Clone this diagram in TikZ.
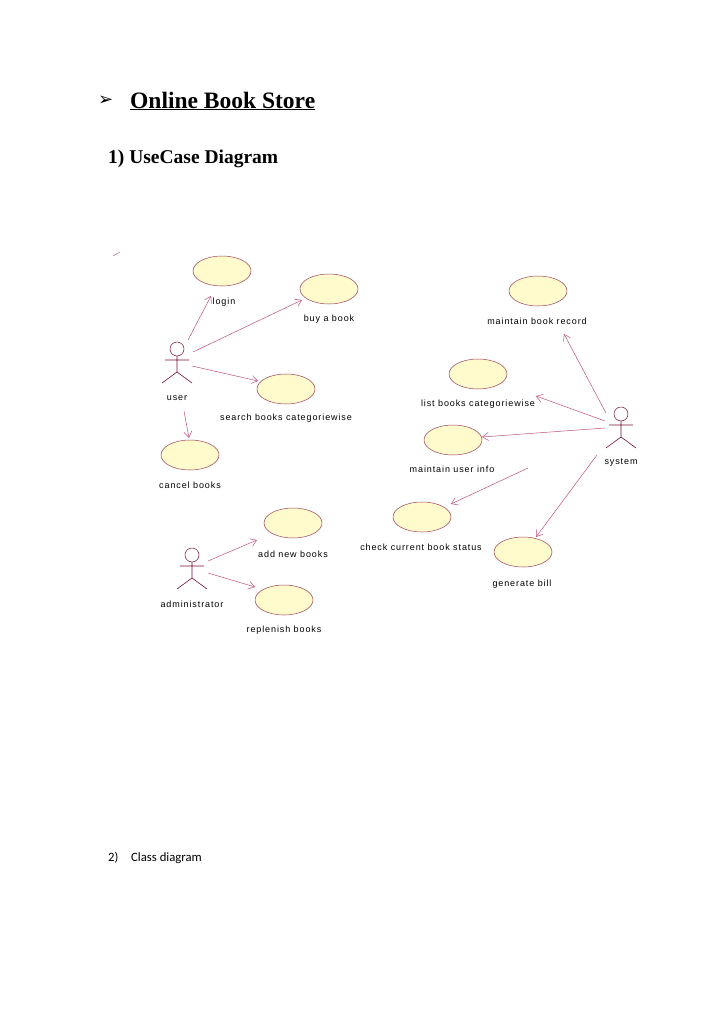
\documentclass[tikz,border=0pt]{standalone}
\usepackage{fontspec}
\usetikzlibrary{shapes.geometric,arrows.meta}
\setmainfont{Liberation Serif}
\newfontfamily\labfont[LetterSpace=10]{Liberation Sans}
\newfontfamily\symfont{DejaVu Sans}
\newfontfamily\calfont{Carlito}
\definecolor{uclr}{HTML}{A0405A}
\definecolor{ucfill}{HTML}{FFFBCC}
\definecolor{arrclr}{HTML}{C05080}
\definecolor{actclr}{HTML}{7A1030}
\begin{document}
\begin{tikzpicture}[x=1pt,y=-1pt,
  uc/.style={ellipse,draw=uclr,fill=ucfill,line width=0.5pt,minimum width=58pt,minimum height=30pt,inner sep=0pt},
  lbl/.style={font=\labfont\fontsize{9}{10}\selectfont,inner sep=0pt},
  arr/.style={draw=arrclr,line width=0.5pt,-{Straight Barb[length=6pt,width=8pt]}},
  act/.style={inner sep=0pt,minimum size=2pt}]
\useasboundingbox (0,0) rectangle (719,1017);
\fill[white] (0,0) rectangle (719,1017);
% header
\node[anchor=west,inner sep=0pt] (bul) at (98,101) {\symfont\bfseries\fontsize{18}{20}\selectfont ➢};
\node[anchor=west,inner sep=0pt] (title) at (130,101) {\fontsize{23.5}{26}\selectfont\bfseries\underline{Online Book Store}};
\node[anchor=west,inner sep=0pt] (sub) at (108,159) {\fontsize{19.5}{22}\selectfont\bfseries 1)\ UseCase Diagram};
\node[anchor=west,inner sep=0pt] (cls) at (108,858) {\calfont\fontsize{12.7}{14}\selectfont 2)\quad Class diagram};
\draw[arrclr,line width=0.4pt] (113,256) -- (120,252);
% use cases
\node[uc] (login) at (222,271) {};
\node[uc] (buy) at (329,289) {};
\node[uc] (search) at (286,389) {};
\node[uc] (cancel) at (190,455) {};
\node[uc] (addnew) at (293,523) {};
\node[uc] (repl) at (284,600) {};
\node[uc] (mbr) at (538,291) {};
\node[uc] (list) at (478,374) {};
\node[uc] (mui) at (453,440) {};
\node[uc] (check) at (422,517) {};
\node[uc] (bill) at (523,552) {};
\node[lbl] (tlogin) at (224,302) {login};
\node[lbl] (tbuy) at (329,319) {buy a book};
\node[lbl] (tsearch) at (286,418) {search books categoriewise};
\node[lbl] (tcancel) at (190,485) {cancel books};
\node[lbl] (tadd) at (293,554) {add new books};
\node[lbl] (trepl) at (284,630) {replenish books};
\node[lbl] (tmbr) at (537,321) {maintain book record};
\node[lbl] (tlist) at (478,404) {list books categoriewise};
\node[lbl] (tmui) at (452,469) {maintain user info};
\node[lbl] (tcheck) at (421,547) {check current book status};
\node[lbl] (tbill) at (522,584) {generate bill};
% actors
\foreach \n/\x/\y/\t in {user/177/349/user, admin/192/555/administrator, sys/621/414/system}{
  \draw[actclr,line width=0.5pt] (\x,\y) circle (7);
  \draw[actclr,line width=0.6pt] (\x,\y+7) -- (\x,\y+23) (\x-12,\y+11) -- (\x+12,\y+11)
     (\x-15,\y+34) -- (\x,\y+23) -- (\x+15,\y+34);
  \node[lbl] (\n lbl) at (\x,\y+49) {\t};
  \node[act] (\n) at (\x,\y+15) {};
}
% connectors
\coordinate (u1) at (188,340); \coordinate (u2) at (193,352); \coordinate (u3) at (192,366); \coordinate (u4) at (184,411);
\draw[arr] (u1) -- (211,296);
\draw[arr] (u2) -- (302,300);
\draw[arr] (u3) -- (258,381);
\draw[arr] (u4) -- (189,438);
\coordinate (a1) at (208,561); \coordinate (a2) at (208,573);
\draw[arr] (a1) -- (257,540);
\draw[arr] (a2) -- (255,587);
\coordinate (s1) at (606,413); \coordinate (s2) at (605,421); \coordinate (s3) at (605,428); \coordinate (s4) at (528,468); \coordinate (s5) at (597,455);
\draw[arr] (s1) -- (564,334);
\draw[arr] (s2) -- (536,396);
\draw[arr] (s3) -- (482,437);
\draw[arr] (s4) -- (451,504);
\draw[arr] (s5) -- (536,537);
\end{tikzpicture}
\end{document}
